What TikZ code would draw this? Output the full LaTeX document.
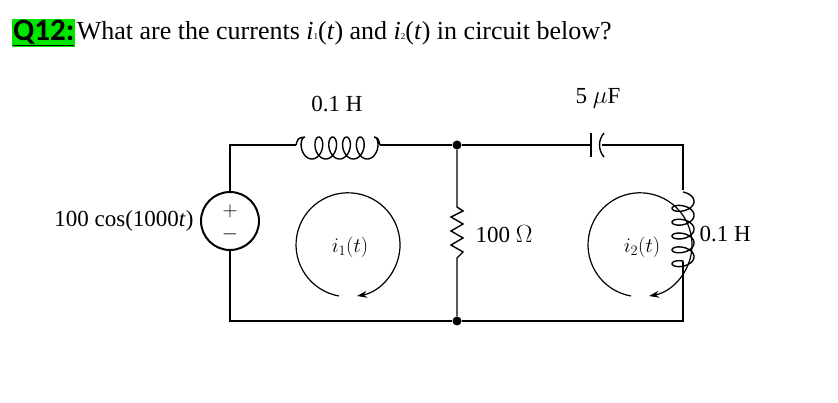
\documentclass[tikz,border=0pt]{standalone}
\usepackage{fontspec}
\setmainfont{Liberation Serif}
\newfontfamily\qfont{Carlito}
\usetikzlibrary{arrows.meta}
\begin{document}
\begin{tikzpicture}[x=1pt,y=-1pt,
  wire/.style={line width=1.4pt},
  dot/.style={circle,fill,inner sep=0pt,minimum size=9pt},
  lbl/.style={font=\fontsize{23}{26}\selectfont},
  loop/.style={line width=1.2pt,-{Stealth[length=10pt,width=7pt]}}]
\useasboundingbox (0,0) rectangle (838,403);
% title
\node[anchor=west,inner sep=1pt,fill=green!90!black,font=\qfont\bfseries\fontsize{31}{34}\selectfont] (q) at (12,33) {\underline{Q12:}};
\node[anchor=west,inner sep=1pt,font=\fontsize{26}{28}\selectfont] (t) at (q.east) {What are the currents \textit{i}{\small 1}(\textit{t}) and \textit{i}{\small 2}(\textit{t}) in circuit below?};
% nodes
\coordinate (tl) at (230,145); \coordinate (bl) at (230,321);
\node[dot] (tm) at (457,145) {}; \node[dot] (bm) at (457,321) {};
\coordinate (tr) at (683,145); \coordinate (br) at (683,321);
\node[circle,draw,line width=2pt,minimum size=58pt,inner sep=0pt] (src) at (230,221) {};
\node[font=\fontsize{20}{20}\selectfont] (plus) at (230,211) {$+$};
\node[font=\fontsize{20}{20}\selectfont] (minus) at (230,234) {$-$};
% wires
\draw[wire] (src.north) -- (tl) -- (296,145);
\draw[wire] (src.south) -- (bl) -- (bm) -- (br) -- (683,262);
\draw[wire] (380,145) -- (tm) -- (591,145);
\draw[wire] (602,145) -- (tr) -- (683,190);
% top inductor
\draw[wire] (296,145) .. controls (298,138) .. (305,137) plot[domain=0:31.42,samples=200,smooth] ({305+2.2*\x-7*sin(\x r)},{148-11*cos(\x r)}) .. controls (378,138) .. (380,145);
% right inductor
\draw[wire] (683,190) plot[domain=0:31.42,samples=200,smooth] ({683+11*sin(\x r)},{192+2.2*\x-6*sin((\x+1.57) r)+6}) -- (683,262);
% resistor
\draw[wire] (tm) -- (457,207) -- (463,211) -- (451,217) -- (463,224) -- (451,231) -- (463,238) -- (451,245) -- (463,252) -- (457,258) -- (bm);
% capacitor
\draw[wire] (591,133) -- (591,157);
\draw[wire] (604,133) .. controls (598,140) and (598,150) .. (604,157);
% labels
\node[lbl] (l1) at (337,104) {0.1 H};
\node[lbl] (c1) at (598,98) {5 $\mu$F};
\node[lbl,anchor=east] (vs) at (197,221) {100 cos(1000\textit{t})};
\node[lbl,anchor=west] (r1) at (472,234) {100 $\Omega$};
\node[lbl,anchor=west] (l2) at (696,234) {0.1 H};
% mesh currents
\node[font=\fontsize{20}{22}\selectfont] (i1) at (350,247) {$i_1(t)$};
\node[font=\fontsize{20}{22}\selectfont] (i2) at (642,247) {$i_2(t)$};
\draw[loop] (339,296) arc[start angle=100,end angle=440,radius=52];
\draw[loop] (631,296) arc[start angle=100,end angle=440,radius=52];
\end{tikzpicture}
\end{document}
